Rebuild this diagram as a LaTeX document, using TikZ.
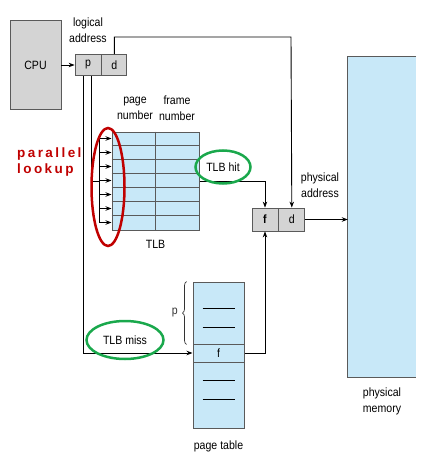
\documentclass[tikz,border=0pt]{standalone}
\usepackage{fontspec}
\setmainfont[FakeStretch=0.88]{Liberation Sans}
\newfontfamily\lookupfont[LetterSpace=18]{Liberation Sans}
\usepackage{tikz}
\usetikzlibrary{arrows.meta,positioning,decorations.pathreplacing,shapes.geometric}
\definecolor{boxgray}{HTML}{D4D4D4}
\definecolor{memblue}{HTML}{C8E8F8}
\definecolor{edgegray}{HTML}{5A5A5A}
\definecolor{lookred}{HTML}{C00000}
\definecolor{hitgreen}{HTML}{1AA84C}
\tikzset{
  cell/.style={draw=edgegray,fill=boxgray,line width=0.8pt,minimum height=21pt,inner sep=0pt},
  tbl/.style={draw=edgegray,fill=memblue,line width=1pt,inner sep=0pt},
  lbl/.style={align=center,inner sep=0pt},
  arr/.style={line width=0.9pt,-{Stealth[length=6pt,width=4.5pt]}},
  wire/.style={line width=0.9pt},
  ring/.style={ellipse,draw=hitgreen,line width=2.5pt,inner sep=0pt},
}

\begin{document}
\begin{tikzpicture}[x=1pt,y=-1pt,font=\fontsize{12}{16}\selectfont]
        \useasboundingbox (0,0) rectangle (435,460);
        % CPU and logical address
        \node[cell,minimum width=51pt,minimum height=89pt] (cpu) at (35.5,65) {CPU};
        \node[cell,minimum width=26pt] (p) at (88,65) {p};
        \node[cell,minimum width=25pt,right=0pt of p] (d) {d};
        \node[lbl] (logaddr) at (88,30) {logical\\address};
        \coordinate (top) at (291,37);
        % TLB
        \node[tbl,minimum width=87pt,minimum height=98pt] (tlb) at (155.5,181) {};
        \foreach \i in {1,...,6}
          \draw[edgegray,line width=0.8pt] ([yshift={-14pt*\i}]tlb.north west) -- ([yshift={-14pt*\i}]tlb.north east);
        \draw[edgegray,line width=0.8pt] (tlb.north) -- (tlb.south);
        \node[lbl] (pnum) at (135,108) {page\\number};
        \node[lbl] (fnum) at (177,108) {frame\\number};
        \node[lbl] (tlbname) at (155.5,244) {TLB};
        \coordinate (bus) at (99,0);
        \foreach \i in {0,...,6} {
          \coordinate (row\i) at ([yshift={-7pt-14pt*\i}]tlb.north west);
          \draw[arr] (bus |- row\i) -- (row\i);
        }
        \draw[wire] (bus |- row0) -- (bus |- row6);
        % physical address
        \node[cell,minimum width=26pt,minimum height=23pt,font=\bfseries\fontsize{12}{14}\selectfont] (pf) at (265,219.5) {f};
        \node[cell,minimum width=26pt,minimum height=23pt,right=0pt of pf] (pd) {d};
        \node[lbl] (physaddr) at (320,185) {physical\\address};
        % physical memory
        \node[fill=memblue,minimum width=68pt,minimum height=320pt,inner sep=0pt] (mem) at (382,217) {};
        \draw[edgegray,line width=1.2pt] (mem.north east) -- (mem.north west) -- (mem.south west) -- (mem.south east);
        \node[lbl] (memname) at (382,401) {physical\\memory};
        % page table
        \node[tbl,minimum width=51pt,minimum height=62pt] (ptop) at (218.5,313) {};
        \node[tbl,minimum width=51pt,minimum height=18pt] (ptf) at (218.5,353) {f};
        \node[tbl,minimum width=51pt,minimum height=66pt] (pbot) at (218.5,395) {};
        \foreach \dy in {5,-14}
          \draw[line width=0.8pt] ([xshift=-16pt,yshift=\dy pt]ptop.center) -- ++(32,0);
        \foreach \dy in {15,-4}
          \draw[line width=0.8pt] ([xshift=-16pt,yshift=\dy pt]pbot.center) -- ++(32,0);
        \draw[black!80,line width=0.7pt,decorate,decoration={brace,amplitude=4pt}]
          ([xshift=-6pt]ptop.south west) -- ([xshift=-6pt]ptop.north west) node[midway,left=5pt] (pidx) {p};
        \node[lbl] (ptname) at (218.5,446) {page table};
        % connectors
        \draw[arr] (cpu) -- (p);
        \draw[arr] (d.north) |- (top) -- (pd.north);
        \draw[wire] ([xshift=3pt]p.south) |- (bus |- tlb.west);
        \draw[arr] ([xshift=-5pt]p.south) |- (ptf.west);
        \draw[arr] (tlb.east) -| (pf.north);
        \draw[arr] (ptf.east) -| (pf.south);
        \draw[arr] (pd.east) -- (pd.east -| mem.west);
        % highlights
        \node[ellipse,draw=lookred,line width=2.5pt,minimum width=33pt,minimum height=118pt] (scan) at (108,187) {};
        \node[anchor=west,align=left,inner sep=0pt,text=lookred,font=\lookupfont\bfseries\fontsize{13.5}{15.5}\selectfont] (lookup) at (17,162) {parallel\\lookup};
        \node[ring,minimum width=55pt,minimum height=33pt] (hit) at (223,167) {TLB hit};
        \node[ring,minimum width=77pt,minimum height=38pt] (miss) at (125,340) {TLB miss};
    \end{tikzpicture}
\end{document}
